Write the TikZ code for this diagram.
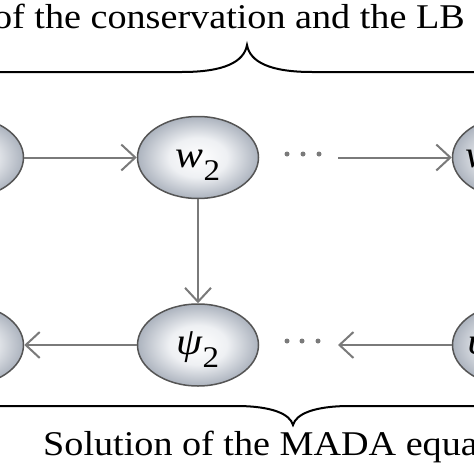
\documentclass[tikz,border=0pt]{standalone}
\usepackage{fontspec}
\setmainfont[FakeStretch=1.1]{Liberation Serif}
\usetikzlibrary{arrows.meta,shapes.geometric}
\definecolor{edgegrey}{RGB}{85,85,85}
\definecolor{arrgrey}{RGB}{122,122,122}
\definecolor{shin}{RGB}{255,255,255}
\definecolor{shmid}{RGB}{238,240,243}
\definecolor{shout}{RGB}{172,179,190}
\pgfdeclareradialshading{ellshade}{\pgfpoint{0bp}{0bp}}{color(0bp)=(shin); color(12bp)=(shmid); color(25bp)=(shout); color(50bp)=(shout)}
\newcommand\vlab[2]{{\fontsize{38}{40}\selectfont\itshape #1}\raisebox{-13pt}{\fontsize{30}{32}\selectfont #2}}
\tikzset{
  var/.style={ellipse, draw=edgegrey, line width=1.5pt, shading=ellshade,
    minimum width=121pt, minimum height=82pt, inner sep=2pt, text height=31pt, text depth=12pt},
  arr/.style={draw=arrgrey, line width=2pt, -{Straight Barb[length=14pt,width=26pt]}},
  dotnode/.style={circle, fill=arrgrey, inner sep=0pt, minimum size=5pt},
  brace/.style={draw=black, line width=2pt},
  caption/.style={inner sep=0pt, font=\fontsize{34.7}{40}\selectfont}
}
\begin{document}
\begin{tikzpicture}[x=1pt,y=-1pt]
\useasboundingbox (0,0) rectangle (474,474);
\clip (0,0) rectangle (474,474);
% captions
\node[caption, anchor=base east] (toptext) at (465,28) {of the conservation and the LB};
\node[caption, anchor=base west] (bottext) at (43,455) {Solution of the MADA equa};
% braces
\draw[brace] (-10,72) -- (182,72) .. controls (224,72) and (244,62) .. (247,45)
  .. controls (250,62) and (270,72) .. (312,72) -- (484,72);
\draw[brace] (-10,406) -- (236,406) .. controls (272,406) and (290,414) .. (293,425)
  .. controls (296,414) and (314,406) .. (350,406) -- (484,406);
% nodes
\node[var] (w1) at (-37,157.5) {};
\node[var] (w2) at (198,157.5) {\vlab{w}{2}};
\node[var] (wn) at (513,157.5) {\rlap{\hspace{-48pt}\vlab{w}{n}}};
\node[var] (p1) at (-37,345) {};
\node[var] (p2) at (198,345) {\vlab{ψ}{2}};
\node[var] (pn) at (513,345) {\rlap{\hspace{-46pt}\vlab{ψ}{n}}};
% dots
\node[dotnode] (td1) at (287,154) {};
\node[dotnode] (td2) at (303,154) {};
\node[dotnode] (td3) at (319,154) {};
\node[dotnode] (bd1) at (287,341) {};
\node[dotnode] (bd2) at (302,341) {};
\node[dotnode] (bd3) at (318,341) {};
\coordinate (ts) at (338,157.5);
\coordinate (bs) at (338,345);
% connectors
\draw[arr] (w1) -- (w2);
\draw[arr] (ts) -- (wn);
\draw[arr] (w2) -- (p2);
\draw[arr] (p2) -- (p1);
\draw[arr] (pn) -- (bs);
\end{tikzpicture}
\end{document}
